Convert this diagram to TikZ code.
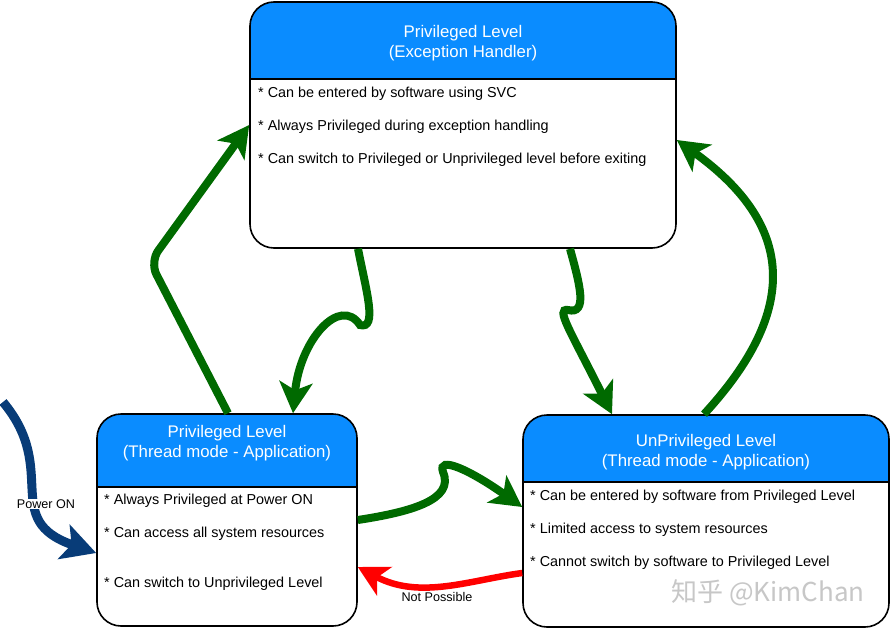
\documentclass[tikz,border=0pt]{standalone}
\usepackage{fontspec}
\setmainfont{Liberation Sans}
\newfontfamily\cjkfont{Noto Sans CJK SC}
\usetikzlibrary{arrows.meta}

\definecolor{hdrblue}{RGB}{10,140,255}
\definecolor{arrowgreen}{RGB}{0,106,0}
\definecolor{poweronblue}{RGB}{8,60,120}

\tikzset{
  levelbox/.style={draw, line width=1.6pt, rounded corners=24pt, fill=white,
    path picture={
      \fill[hdrblue, sharp corners] (path picture bounding box.north west) rectangle ([yshift=-#1]path picture bounding box.north east);
      \draw[line width=1.6pt, sharp corners] ([yshift=-#1]path picture bounding box.north west) -- ([yshift=-#1]path picture bounding box.north east);
    }},
  title/.style={text=white, align=center, font=\fontsize{16.8}{20.5}\selectfont},
  item/.style={anchor=west, inner sep=0pt, font=\fontsize{14.4}{17}\selectfont},
  label/.style={fill=white, inner sep=1pt, font=\fontsize{12.6}{15}\selectfont},
  greenarrow/.style={draw=arrowgreen, line width=8pt, -{Stealth[length=31pt, width=33pt, inset=8pt]}},
}

\begin{document}
\begin{tikzpicture}[x=1pt, y=-1pt]
    \useasboundingbox (0,0) rectangle (891,629);

    % Level boxes
    \node[levelbox=77pt, minimum width=426pt, minimum height=246pt] (exc) at (463,125) {};
    \node[levelbox=73pt, minimum width=260pt, minimum height=212pt] (pthr) at (227,520) {};
    \node[levelbox=67pt, minimum width=366pt, minimum height=212pt] (upr) at (706,521) {};

    \node[title] (excTitle) at (463,43) {Privileged Level\\(Exception Handler)};
    \node[item] (exc1) at (258,94) {* Can be entered by software using SVC};
    \node[item] (exc2) at (258,127) {* Always Privileged during exception handling};
    \node[item] (exc3) at (258,160) {* Can switch to Privileged or Unprivileged level before exiting};

    \node[title] (pthrTitle) at (227,443) {Privileged Level\\(Thread mode - Application)};
    \node[item] (pthr1) at (104,501) {* Always Privileged at Power ON};
    \node[item] (pthr2) at (104,534) {* Can access all system resources};
    \node[item] (pthr3) at (104,584) {* Can switch to Unprivileged Level};

    \node[title] (uprTitle) at (706,452) {UnPrivileged Level\\(Thread mode - Application)};
    \node[item] (upr1) at (530,497) {* Can be entered by software from Privileged Level};
    \node[item] (upr2) at (530,530) {* Limited access to system resources};
    \node[item] (upr3) at (530,563) {* Cannot switch by software to Privileged Level};

    \node[text=black!22, font=\cjkfont\fontsize{26}{30}\selectfont] (mark) at (768,593) {知乎 @KimChan};

    % Transitions
    \coordinate (powerStart) at (3,402);
    \draw[draw=poweronblue, line width=9pt, -{Stealth[length=34pt, width=36pt, inset=8pt]}]
        (powerStart) .. controls (60,470) and (0,520) .. ([yshift=-33pt]pthr.west);
    \node[label] (powerLabel) at (46,504) {Power ON};

    \draw[greenarrow, rounded corners=14pt] ([xshift=1pt]pthr.north) -- (150,262) -- (exc.west);
    \draw[greenarrow] ([xshift=-105pt]exc.south) .. controls (366,290) and (378,330) .. (360,325)
        .. controls (340,295) and (300,340) .. ([xshift=66pt]pthr.north);
    \draw[greenarrow] ([xshift=107pt]exc.south) .. controls (580,285) and (588,315) .. (568,310)
        .. controls (555,308) and (570,330) .. ([xshift=-94pt]upr.north);
    \draw[greenarrow] ([xshift=-2pt]upr.north) .. controls (800,310) and (795,225) .. ([yshift=-15pt]exc.east);
    \draw[greenarrow] (pthr.east) .. controls (410,512) and (455,500) .. (443,472)
        .. controls (437,455) and (470,470) .. ([yshift=14pt]upr.west);

    \draw[draw=red, line width=6.5pt, -{Stealth[length=30pt, width=32pt, inset=8pt]}]
        ([yshift=-52pt]upr.west) .. controls (470,580) and (420,600) .. ([yshift=-47pt]pthr.east);
    \node[label] (notLabel) at (437,597) {Not Possible};
\end{tikzpicture}
\end{document}
